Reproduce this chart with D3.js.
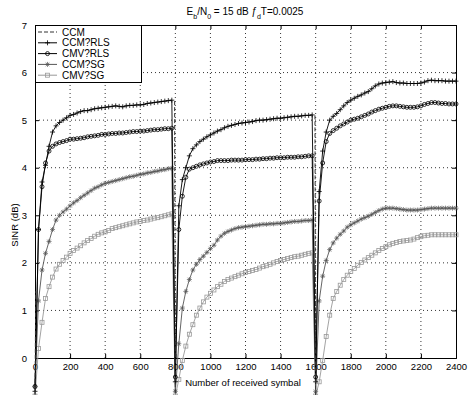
<!DOCTYPE html>
<html>
<head>
<meta charset="utf-8">
<script src="https://cdn.jsdelivr.net/npm/d3@7"></script>
<style>
  body { margin: 0; background: #fff; }
  text { font-family: "Liberation Sans", Arial, sans-serif; fill: #000; }
  .grid line { stroke: #000; stroke-width: 0.8; stroke-dasharray: 1,3; }
</style>
</head>
<body>
<svg width="474" height="395"></svg>
<script>
'use strict';

// symbol index of every stored sample (one every 20 received symbols)
const symbols = d3.range(0, 2401, 20);

const xTicks = [0, 200, 400, 600, 800, 1000, 1200, 1400, 1600, 1800, 2000, 2200, 2400];
const yTicks = [0, 1, 2, 3, 4, 5, 6, 7];

const seriesNames = ['CCM', 'CCM?RLS', 'CMV?RLS', 'CCM?SG', 'CMV?SG'];

// CCM: only the short dashed drops at the three restarts are visible
const ccmSymbols = [0, 4, null, 796, 800, null, 1596, 1600];
const ccmValues = [-0.9, 1.4, null, 5.4, -0.9, null, 5.1, -0.9];

const ccmRls = [
  -0.7, 2.7, 3.7, 4.05, 4.45, 4.75, 4.88, 4.95, 5.0, 5.05, 5.1, 5.12, 5.15, 5.18, 5.2, 5.2, 5.22, 5.24, 5.25, 5.26,
  5.27, 5.28, 5.29, 5.3, 5.29, 5.28, 5.3, 5.31, 5.31, 5.32, 5.32, 5.33, 5.35, 5.36, 5.37, 5.38, 5.39, 5.4, 5.41, 5.42,
  -0.5, 3.2, 3.75, 4.0, 4.25, 4.4, 4.48, 4.55, 4.6, 4.65, 4.69, 4.73, 4.77, 4.8, 4.84, 4.87, 4.89, 4.91, 4.93, 4.94,
  4.95, 4.96, 4.97, 4.99, 5.0, 5.0, 5.01, 5.02, 5.03, 5.04, 5.04, 5.05, 5.06, 5.07, 5.08, 5.08, 5.09, 5.1, 5.1, 5.11,
  -0.5, 3.5, 4.35, 4.75, 5.0, 5.08, 5.14, 5.22, 5.3, 5.37, 5.42, 5.46, 5.5, 5.53, 5.57, 5.6, 5.66, 5.72, 5.76, 5.78,
  5.79, 5.8, 5.81, 5.79, 5.78, 5.78, 5.77, 5.77, 5.77, 5.77, 5.78, 5.8, 5.83, 5.84, 5.83, 5.83, 5.83, 5.82, 5.82, 5.82,
  5.82
];

const cmvRls = [
  -0.6, 2.7, 3.6, 4.1, 4.35, 4.45, 4.5, 4.53, 4.55, 4.57, 4.6, 4.6, 4.61, 4.62, 4.63, 4.65, 4.66, 4.67, 4.68, 4.7,
  4.7, 4.71, 4.72, 4.72, 4.73, 4.73, 4.74, 4.75, 4.76, 4.76, 4.77, 4.77, 4.78, 4.79, 4.8, 4.8, 4.81, 4.82, 4.82, 4.83,
  -0.4, 2.7, 3.4, 3.8, 3.97, 4.0, 4.03, 4.06, 4.08, 4.1, 4.12, 4.13, 4.15, 4.15, 4.15, 4.15, 4.16, 4.16, 4.16, 4.16,
  4.17, 4.17, 4.17, 4.18, 4.18, 4.19, 4.19, 4.2, 4.2, 4.21, 4.21, 4.21, 4.22, 4.22, 4.22, 4.23, 4.23, 4.24, 4.25, 4.25,
  -0.4, 3.3, 4.1, 4.55, 4.72, 4.78, 4.83, 4.88, 4.92, 4.96, 5.0, 5.02, 5.04, 5.07, 5.1, 5.13, 5.17, 5.2, 5.23, 5.25,
  5.27, 5.29, 5.3, 5.3, 5.29, 5.28, 5.27, 5.27, 5.27, 5.28, 5.3, 5.33, 5.35, 5.37, 5.37, 5.36, 5.35, 5.35, 5.34, 5.34,
  5.34
];

const ccmSg = [
  -0.6, 1.2, 1.85, 2.2, 2.45, 2.7, 2.9, 3.0, 3.07, 3.13, 3.2, 3.26, 3.31, 3.37, 3.42, 3.47, 3.52, 3.57, 3.6, 3.64,
  3.67, 3.69, 3.71, 3.73, 3.75, 3.77, 3.79, 3.81, 3.82, 3.84, 3.86, 3.87, 3.89, 3.9, 3.92, 3.93, 3.95, 3.96, 3.98, 3.99,
  -0.7, 0.3, 1.05, 1.4, 1.65, 1.85, 1.97, 2.07, 2.14, 2.22, 2.3, 2.37, 2.48, 2.56, 2.62, 2.66, 2.69, 2.72, 2.74, 2.75,
  2.76, 2.77, 2.78, 2.79, 2.8, 2.81, 2.81, 2.82, 2.82, 2.83, 2.83, 2.84, 2.85, 2.86, 2.87, 2.87, 2.88, 2.89, 2.89, 2.9,
  -0.7, 1.2, 1.72, 2.05, 2.28, 2.42, 2.52, 2.6, 2.67, 2.75, 2.8, 2.84, 2.88, 2.92, 2.95, 2.98, 3.02, 3.06, 3.1, 3.13,
  3.15, 3.15, 3.15, 3.14, 3.13, 3.12, 3.11, 3.11, 3.11, 3.11, 3.12, 3.13, 3.14, 3.15, 3.15, 3.15, 3.15, 3.15, 3.15, 3.15,
  3.15
];

const cmvSg = [
  -0.8, 0.2, 0.75, 1.25, 1.5, 1.7, 1.87, 1.97, 2.05, 2.12, 2.2, 2.26, 2.31, 2.36, 2.42, 2.47, 2.51, 2.56, 2.6, 2.63,
  2.65, 2.68, 2.72, 2.74, 2.76, 2.78, 2.8, 2.82, 2.84, 2.86, 2.87, 2.89, 2.9, 2.92, 2.94, 2.95, 2.97, 2.99, 3.01, 3.03,
  -0.8, -0.45, -0.05, 0.25, 0.5, 0.7, 0.9, 1.05, 1.18, 1.28, 1.36, 1.43, 1.5, 1.55, 1.61, 1.65, 1.68, 1.71, 1.74, 1.77,
  1.8, 1.82, 1.84, 1.86, 1.89, 1.92, 1.94, 1.97, 2.0, 2.03, 2.05, 2.07, 2.09, 2.11, 2.13, 2.14, 2.16, 2.18, 2.2, 2.21,
  -0.8, -0.5, -0.05, 0.45, 0.9, 1.25, 1.4, 1.53, 1.65, 1.74, 1.82, 1.88, 1.95, 2.01, 2.06, 2.11, 2.16, 2.21, 2.26, 2.3,
  2.34, 2.38, 2.41, 2.43, 2.45, 2.46, 2.47, 2.48, 2.5, 2.53, 2.55, 2.57, 2.58, 2.59, 2.59, 2.59, 2.59, 2.59, 2.59, 2.59,
  2.59
];

const svg = d3.select('svg');
const margin = { left: 35, right: 18, top: 25, bottom: 37 };
const width = 474 - margin.left - margin.right;
const height = 395 - margin.top - margin.bottom;

const x = d3.scaleLinear().domain([0, 2400]).range([margin.left, margin.left + width]);
const y = d3.scaleLinear().domain([0, 7]).range([margin.top + height, margin.top]);

// grid
const grid = svg.append('g').attr('class', 'grid');
grid.selectAll('.gx')
  .data(xTicks.slice(1, -1))
  .enter().append('line')
    .attr('x1', d => x(d)).attr('x2', d => x(d))
    .attr('y1', y(0)).attr('y2', y(7));
grid.selectAll('.gy')
  .data(yTicks.slice(1, -1))
  .enter().append('line')
    .attr('x1', x(0)).attr('x2', x(2400))
    .attr('y1', d => y(d)).attr('y2', d => y(d));

// axes (MATLAB style: ticks inside on all four sides)
const fmt = d3.format('d');
const axB = svg.append('g').attr('transform', `translate(0,${y(0)})`)
  .call(d3.axisBottom(x).tickValues(xTicks).tickSize(-4).tickPadding(5).tickFormat(fmt));
const axL = svg.append('g').attr('transform', `translate(${x(0)},0)`)
  .call(d3.axisLeft(y).tickValues(yTicks).tickSize(-4).tickPadding(7).tickFormat(fmt));
const axT = svg.append('g').attr('transform', `translate(0,${y(7)})`)
  .call(d3.axisTop(x).tickValues(xTicks).tickSize(-4).tickFormat(''));
const axR = svg.append('g').attr('transform', `translate(${x(2400)},0)`)
  .call(d3.axisRight(y).tickValues(yTicks).tickSize(-4).tickFormat(''));
for (const ax of [axB, axL, axT, axR]) {
  ax.select('.domain').attr('stroke', '#000');
  ax.selectAll('.tick line').attr('stroke', '#000');
  ax.selectAll('text').style('font-size', '9.5px').attr('fill', '#000')
    .style('font-family', '"Liberation Sans", Arial, sans-serif');
}
axL.selectAll('text').attr('x', -8);

// series
const series = [
  { name: seriesNames[1], values: ccmRls, color: '#000', marker: 'plus' },
  { name: seriesNames[2], values: cmvRls, color: '#000', marker: 'circle' },
  { name: seriesNames[3], values: ccmSg, color: '#555', marker: 'star' },
  { name: seriesNames[4], values: cmvSg, color: '#999', marker: 'square' }
];

const line = d3.line()
  .x(d => x(d[0]))
  .y(d => y(d[1]));

function drawMarker(g, kind, color) {
  if (kind === 'plus') {
    g.append('path').attr('d', 'M-2.5,0H2.5M0,-2.5V2.5').attr('stroke', color).attr('stroke-width', 0.8);
  } else if (kind === 'circle') {
    g.append('circle').attr('r', 2).attr('fill', 'none').attr('stroke', color).attr('stroke-width', 0.8);
  } else if (kind === 'star') {
    g.append('path').attr('d', 'M-2.5,0H2.5M0,-2.5V2.5M-1.8,-1.8L1.8,1.8M-1.8,1.8L1.8,-1.8')
      .attr('stroke', color).attr('stroke-width', 0.7);
  } else if (kind === 'square') {
    g.append('rect').attr('x', -2).attr('y', -2).attr('width', 4).attr('height', 4)
      .attr('fill', 'none').attr('stroke', color).attr('stroke-width', 0.8);
  }
}

// draw light series first so black ones sit on top
for (const s of series.slice().reverse()) {
  const pts = symbols.map((v, i) => [v, s.values[i]]);
  svg.append('path')
    .datum(pts)
    .attr('d', line)
    .attr('fill', 'none')
    .attr('stroke', s.color)
    .attr('stroke-width', 0.9);
  const mk = svg.append('g');
  for (const p of pts) {
    drawMarker(mk.append('g').attr('transform', `translate(${x(p[0])},${y(p[1])})`), s.marker, s.color);
  }
}

// CCM dashed drops
svg.append('path')
  .datum(ccmSymbols.map((v, i) => [v, ccmValues[i]]))
  .attr('d', d3.line().defined(d => d[0] !== null).x(d => x(d[0])).y(d => y(d[1])))
  .attr('fill', 'none')
  .attr('stroke', '#333')
  .attr('stroke-width', 1)
  .attr('stroke-dasharray', '4,2');

// legend
const lg = svg.append('g');
lg.append('rect')
  .attr('x', x(0) + 0.5).attr('y', y(7) + 0.5)
  .attr('width', 106).attr('height', 57)
  .attr('fill', '#fff').attr('stroke', '#000');
const legendItems = [
  { name: seriesNames[0], color: '#333', marker: null, dash: '4,2' },
  { name: seriesNames[1], color: '#000', marker: 'plus' },
  { name: seriesNames[2], color: '#000', marker: 'circle' },
  { name: seriesNames[3], color: '#555', marker: 'star' },
  { name: seriesNames[4], color: '#999', marker: 'square' }
];
legendItems.forEach((d, i) => {
  const yy = y(7) + 7 + i * 10.8;
  lg.append('line')
    .attr('x1', x(0) + 3).attr('x2', x(0) + 22)
    .attr('y1', yy).attr('y2', yy)
    .attr('stroke', d.color).attr('stroke-width', 1)
    .attr('stroke-dasharray', d.dash || null);
  if (d.marker) {
    drawMarker(lg.append('g').attr('transform', `translate(${x(0) + 12.5},${yy})`), d.marker, d.color);
  }
  lg.append('text')
    .attr('x', x(0) + 27).attr('y', yy + 3.5)
    .style('font-size', '10px')
    .text(d.name);
});

// title
const title = svg.append('text')
  .attr('x', 245).attr('y', 15)
  .attr('text-anchor', 'middle')
  .style('font-size', '10px');
title.append('tspan').text('E');
title.append('tspan').attr('baseline-shift', 'sub').style('font-size', '7px').text('b');
title.append('tspan').text('/N');
title.append('tspan').attr('baseline-shift', 'sub').style('font-size', '7px').text('0');
title.append('tspan').text(' = 15 dB ƒ');
title.append('tspan').attr('baseline-shift', 'sub').style('font-size', '7px').text('d');
title.append('tspan').text('T=0.0025');

// axis labels
svg.append('text')
  .attr('x', 243).attr('y', 386)
  .attr('text-anchor', 'middle')
  .style('font-size', '9.5px')
  .text('Number of received symbal');
svg.append('text')
  .attr('transform', 'translate(18,225) rotate(-90)')
  .attr('text-anchor', 'middle')
  .style('font-size', '9.5px')
  .text('SINR (dB)');
</script>
</body>
</html>
